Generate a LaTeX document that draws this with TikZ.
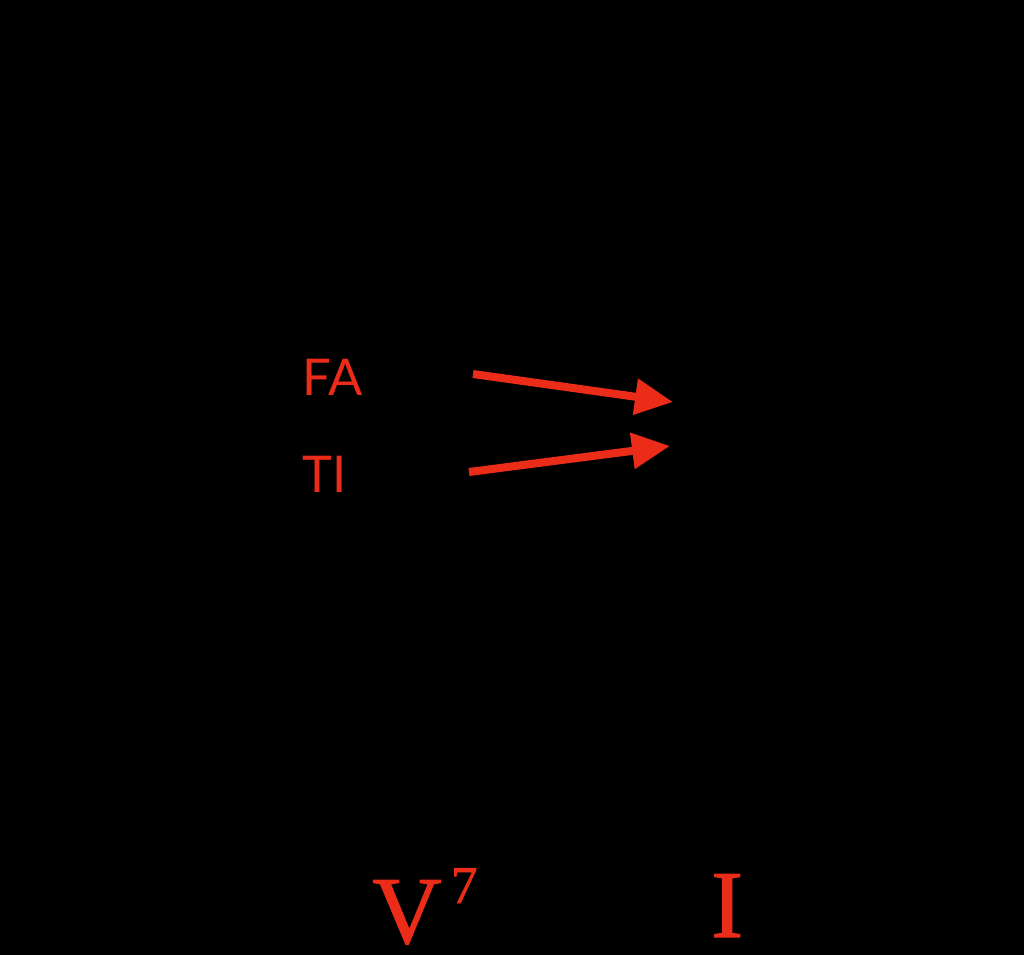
\documentclass[tikz,border=0pt]{standalone}
\usepackage{fontspec}
\setmainfont{Liberation Serif}
\newfontfamily\chordfont[FakeBold=1.2]{Liberation Serif}
\newfontfamily\labelsans{Lato}
\usetikzlibrary{arrows.meta}
\definecolor{accent}{RGB}{234,44,24}
\tikzset{
  solfa/.style={anchor=base west, inner sep=0pt, text=accent, font=\labelsans\fontsize{38}{38}\selectfont},
  chord/.style={anchor=base west, inner sep=0pt, text=accent, font=\chordfont\fontsize{72}{72}\selectfont},
  resolve/.style={draw=accent, line width=6pt, -{Triangle[length=28.5pt, width=26pt]}}
}
\begin{document}
\begin{tikzpicture}[x=0.75pt, y=-0.75pt]
  \fill[black] (0,0) rectangle (1024,955);
  \useasboundingbox (0,0) rectangle (1024,955);
  \node[solfa] (fa) at (302,395) {FA};
  \node[solfa] (ti) at (302,492) {TI};
  \coordinate (faS) at (473,374);
  \coordinate (faT) at (673,402);
  \coordinate (tiS) at (469,472);
  \coordinate (tiT) at (670,446);
  \draw[resolve] (faS) -- (faT);
  \draw[resolve] (tiS) -- (tiT);
  \node[chord] (five) at (372,943) {V\hspace{7pt}\raisebox{30pt}{\fontsize{40}{40}\selectfont 7}};
  \node[chord] (one) at (711,937) {I};
\end{tikzpicture}
\end{document}
